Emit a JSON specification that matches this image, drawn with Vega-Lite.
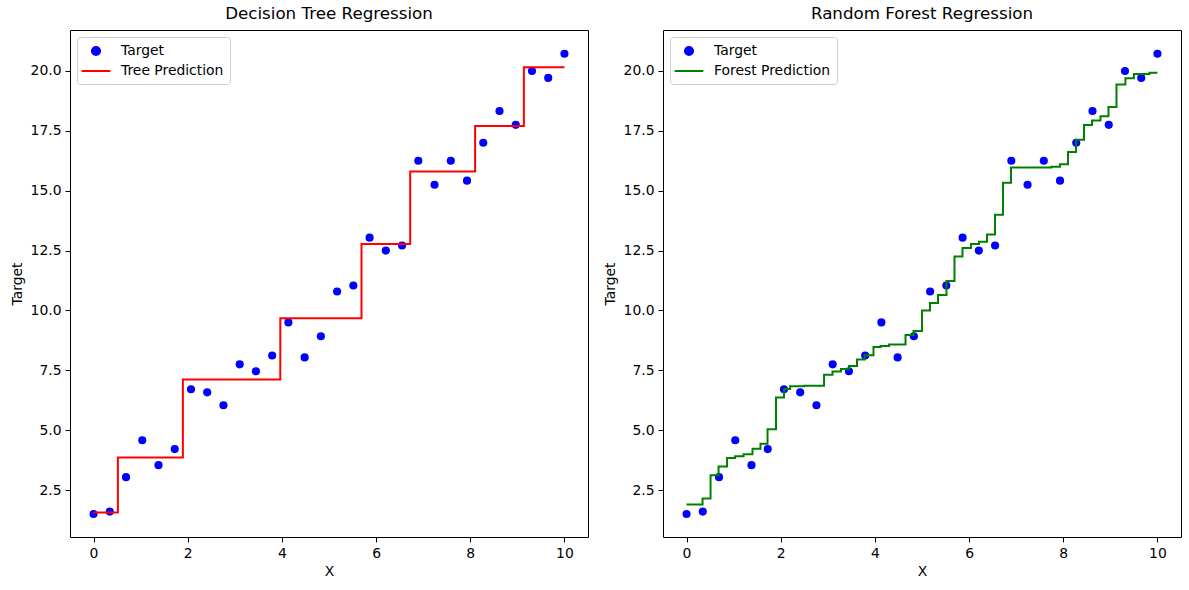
{
  "$schema": "https://vega.github.io/schema/vega-lite/v6.json",
  "padding": {"left": 9, "top": 5, "right": 8, "bottom": 5},
  "background": "white",
  "config": {
    "font": "DejaVu Sans",
    "view": {"stroke": "black", "strokeWidth": 1},
    "axis": {
      "domain": false,
      "grid": false,
      "ticks": true,
      "tickColor": "black",
      "tickSize": 5,
      "tickWidth": 1,
      "labelColor": "black",
      "labelFontSize": 13.9,
      "labelPadding": 4,
      "labelFont": "DejaVu Sans",
      "titleFont": "DejaVu Sans",
      "titleFontSize": 13.9,
      "titleFontWeight": "normal",
      "titleColor": "black"
    },
    "title": {"font": "DejaVu Sans", "fontSize": 16.7, "fontWeight": "normal", "color": "black", "offset": 7},
    "legend": {
      "orient": "top-left",
      "offset": 7,
      "fillColor": "rgba(255,255,255,0.8)",
      "strokeColor": "#cccccc",
      "cornerRadius": 3,
      "padding": 6,
      "labelFont": "DejaVu Sans",
      "labelFontSize": 13.9,
      "labelColor": "black",
      "labelOffset": 17,
      "symbolSize": 196,
      "symbolOffset": 5,
      "symbolStrokeWidth": 2,
      "rowPadding": 3,
      "title": null
    }
  },
  "datasets": {
    "points": [
      {"x": 0.0, "y": 1.50}, {"x": 0.3448, "y": 1.60}, {"x": 0.6897, "y": 3.04}, {"x": 1.0345, "y": 4.58},
      {"x": 1.3793, "y": 3.54}, {"x": 1.7241, "y": 4.21}, {"x": 2.0690, "y": 6.71}, {"x": 2.4138, "y": 6.58},
      {"x": 2.7586, "y": 6.04}, {"x": 3.1034, "y": 7.75}, {"x": 3.4483, "y": 7.46}, {"x": 3.7931, "y": 8.12},
      {"x": 4.1379, "y": 9.50}, {"x": 4.4828, "y": 8.04}, {"x": 4.8276, "y": 8.92}, {"x": 5.1724, "y": 10.79},
      {"x": 5.5172, "y": 11.04}, {"x": 5.8621, "y": 13.04}, {"x": 6.2069, "y": 12.50}, {"x": 6.5517, "y": 12.71},
      {"x": 6.8966, "y": 16.25}, {"x": 7.2414, "y": 15.25}, {"x": 7.5862, "y": 16.25}, {"x": 7.9310, "y": 15.42},
      {"x": 8.2759, "y": 17.00}, {"x": 8.6207, "y": 18.33}, {"x": 8.9655, "y": 17.75}, {"x": 9.3103, "y": 20.00},
      {"x": 9.6552, "y": 19.71}, {"x": 10.0, "y": 20.72}
    ],
    "tree": [
      {"x": 0.0, "y": 1.56}, {"x": 0.517, "y": 3.86}, {"x": 1.897, "y": 7.12}, {"x": 3.966, "y": 9.67},
      {"x": 5.69, "y": 12.77}, {"x": 6.724, "y": 15.8}, {"x": 8.103, "y": 17.7}, {"x": 9.138, "y": 20.15},
      {"x": 10.0, "y": 20.15}
    ],
    "forest": [
      {"x": 0.0, "y": 1.9}, {"x": 0.34, "y": 2.15}, {"x": 0.51, "y": 3.12}, {"x": 0.68, "y": 3.48},
      {"x": 0.86, "y": 3.84}, {"x": 1.03, "y": 3.91}, {"x": 1.21, "y": 4.0}, {"x": 1.40, "y": 4.22},
      {"x": 1.57, "y": 4.43}, {"x": 1.72, "y": 5.04}, {"x": 1.90, "y": 6.36}, {"x": 2.07, "y": 6.72},
      {"x": 2.20, "y": 6.83}, {"x": 2.50, "y": 6.86}, {"x": 2.92, "y": 7.32}, {"x": 3.10, "y": 7.45},
      {"x": 3.28, "y": 7.55}, {"x": 3.45, "y": 7.68}, {"x": 3.62, "y": 7.95}, {"x": 3.78, "y": 8.13},
      {"x": 3.97, "y": 8.47}, {"x": 4.12, "y": 8.52}, {"x": 4.30, "y": 8.58}, {"x": 4.65, "y": 8.97},
      {"x": 4.82, "y": 9.14}, {"x": 5.0, "y": 10.0}, {"x": 5.17, "y": 10.31}, {"x": 5.34, "y": 10.65},
      {"x": 5.52, "y": 11.23}, {"x": 5.69, "y": 12.25}, {"x": 5.86, "y": 12.61}, {"x": 6.04, "y": 12.77},
      {"x": 6.21, "y": 12.87}, {"x": 6.38, "y": 13.17}, {"x": 6.55, "y": 14.0}, {"x": 6.72, "y": 15.33},
      {"x": 6.89, "y": 15.97}, {"x": 7.75, "y": 16.0}, {"x": 7.93, "y": 16.1}, {"x": 8.10, "y": 16.62},
      {"x": 8.27, "y": 17.13}, {"x": 8.44, "y": 17.74}, {"x": 8.61, "y": 17.93}, {"x": 8.79, "y": 18.11},
      {"x": 8.96, "y": 18.5}, {"x": 9.13, "y": 19.43}, {"x": 9.32, "y": 19.7}, {"x": 9.50, "y": 19.87},
      {"x": 9.83, "y": 19.93}, {"x": 10.0, "y": 19.93}
    ]
  },
  "hconcat": [
    {
      "width": 518,
      "height": 507,
      "title": "Decision Tree Regression",
      "layer": [
        {
          "data": {"name": "points"},
          "mark": {"type": "circle", "size": 66, "opacity": 1},
          "encoding": {
            "x": {"field": "x", "type": "quantitative", "scale": {"domain": [-0.5, 10.5], "nice": false, "zero": false},
                  "axis": {"values": [0, 2, 4, 6, 8, 10], "format": "d", "title": "X", "titlePadding": 5}},
            "y": {"field": "y", "type": "quantitative", "scale": {"domain": [0.54, 21.71], "nice": false, "zero": false},
                  "axis": {"values": [2.5, 5, 7.5, 10, 12.5, 15, 17.5, 20], "format": ".1f", "title": "Target", "titlePadding": 6}},
            "color": {"datum": "Target", "type": "nominal",
                      "scale": {"domain": ["Target", "Tree Prediction"], "range": ["#0000ff", "#ff0000"]},
                      "legend": {
                        "encode": {"symbols": {"update": {
                          "shape": {"signal": "datum.value === 'Target' ? 'circle' : 'M-2.05,0H2.05'"},
                          "size": {"signal": "datum.value === 'Target' ? 66 : 196"},
                          "fill": {"signal": "datum.value === 'Target' ? '#0000ff' : 'transparent'"},
                          "stroke": {"signal": "datum.value === 'Target' ? 'transparent' : '#ff0000'"},
                          "strokeWidth": {"value": 2},
                          "opacity": {"value": 1}
                        }}}
                      }}
          }
        },
        {
          "data": {"name": "tree"},
          "mark": {"type": "line", "interpolate": "step-after", "strokeWidth": 2},
          "encoding": {
            "x": {"field": "x", "type": "quantitative"},
            "y": {"field": "y", "type": "quantitative"},
            "color": {"datum": "Tree Prediction", "type": "nominal",
                      "legend": {
                        "encode": {"symbols": {"update": {
                          "shape": {"signal": "datum.value === 'Target' ? 'circle' : 'M-2.05,0H2.05'"},
                          "size": {"signal": "datum.value === 'Target' ? 66 : 196"},
                          "fill": {"signal": "datum.value === 'Target' ? '#0000ff' : 'transparent'"},
                          "stroke": {"signal": "datum.value === 'Target' ? 'transparent' : '#ff0000'"},
                          "strokeWidth": {"value": 2},
                          "opacity": {"value": 1}
                        }}}
                      }}
          }
        }
      ]
    },
    {
      "width": 518,
      "height": 507,
      "title": "Random Forest Regression",
      "layer": [
        {
          "data": {"name": "points"},
          "mark": {"type": "circle", "size": 66, "opacity": 1},
          "encoding": {
            "x": {"field": "x", "type": "quantitative", "scale": {"domain": [-0.5, 10.5], "nice": false, "zero": false},
                  "axis": {"values": [0, 2, 4, 6, 8, 10], "format": "d", "title": "X", "titlePadding": 5}},
            "y": {"field": "y", "type": "quantitative", "scale": {"domain": [0.54, 21.71], "nice": false, "zero": false},
                  "axis": {"values": [2.5, 5, 7.5, 10, 12.5, 15, 17.5, 20], "format": ".1f", "title": "Target", "titlePadding": 6}},
            "color": {"datum": "Target", "type": "nominal",
                      "scale": {"domain": ["Target", "Forest Prediction"], "range": ["#0000ff", "#008000"]},
                      "legend": {
                        "encode": {"symbols": {"update": {
                          "shape": {"signal": "datum.value === 'Target' ? 'circle' : 'M-2.05,0H2.05'"},
                          "size": {"signal": "datum.value === 'Target' ? 66 : 196"},
                          "fill": {"signal": "datum.value === 'Target' ? '#0000ff' : 'transparent'"},
                          "stroke": {"signal": "datum.value === 'Target' ? 'transparent' : '#008000'"},
                          "strokeWidth": {"value": 2},
                          "opacity": {"value": 1}
                        }}}
                      }}
          }
        },
        {
          "data": {"name": "forest"},
          "mark": {"type": "line", "interpolate": "step-after", "strokeWidth": 2},
          "encoding": {
            "x": {"field": "x", "type": "quantitative"},
            "y": {"field": "y", "type": "quantitative"},
            "color": {"datum": "Forest Prediction", "type": "nominal",
                      "legend": {
                        "encode": {"symbols": {"update": {
                          "shape": {"signal": "datum.value === 'Target' ? 'circle' : 'M-2.05,0H2.05'"},
                          "size": {"signal": "datum.value === 'Target' ? 66 : 196"},
                          "fill": {"signal": "datum.value === 'Target' ? '#0000ff' : 'transparent'"},
                          "stroke": {"signal": "datum.value === 'Target' ? 'transparent' : '#008000'"},
                          "strokeWidth": {"value": 2},
                          "opacity": {"value": 1}
                        }}}
                      }}
          }
        }
      ]
    }
  ],
  "spacing": 75,
  "bounds": "flush",
  "resolve": {"scale": {"color": "independent"}, "legend": {"color": "independent"}}
}
